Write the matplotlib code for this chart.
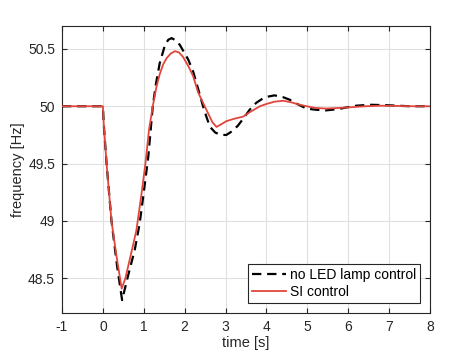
import matplotlib
matplotlib.use("Agg")
import matplotlib.pyplot as plt

# Data
t_nolamp = [-1, 0, 0.02, 0.09, 0.21, 0.35, 0.47, 0.6, 0.78, 0.9, 1.0, 1.11, 1.22, 1.30,
            1.39, 1.52, 1.6, 1.68, 1.78, 1.88, 2.09, 2.21, 2.33, 2.45, 2.53, 2.62, 2.75,
            2.9, 3.02, 3.15, 3.3, 3.45, 3.59, 3.75, 3.92, 4.05, 4.2, 4.4, 4.57, 4.75,
            4.98, 5.2, 5.45, 5.75, 5.96, 6.2, 6.53, 6.9, 7.2, 7.5, 7.8, 8.0]
f_nolamp = [50, 50, 49.85, 49.5, 49.0, 48.6, 48.31, 48.5, 48.75, 48.98, 49.25, 49.56, 50.0, 50.2,
            50.376, 50.536, 50.58, 50.594, 50.575, 50.536, 50.405, 50.3, 50.15, 50.0, 49.91, 49.82, 49.77,
            49.75, 49.75, 49.78, 49.83, 49.9, 49.97, 50.03, 50.07, 50.085, 50.095, 50.08, 50.057, 50.02,
            49.98, 49.97, 49.964, 49.975, 49.99, 50.005, 50.013, 50.01, 50.005, 50.0, 50.0, 50.0]

t_si = [-1, 0, 0.02, 0.09, 0.21, 0.33, 0.46, 0.55, 0.68, 0.82, 0.95, 1.04, 1.13, 1.22,
        1.31, 1.39, 1.48, 1.56, 1.66, 1.76, 1.86, 1.96, 2.09, 2.21, 2.33, 2.45, 2.57,
        2.68, 2.78, 2.88, 3.02, 3.2, 3.43, 3.6, 3.84, 4.0, 4.2, 4.41, 4.6, 4.8, 4.98,
        5.2, 5.47, 5.75, 6.0, 6.4, 6.8, 7.2, 7.6, 8.0]
f_si = [50, 50, 49.85, 49.5, 49.0, 48.7, 48.41, 48.5, 48.7, 48.92, 49.25, 49.5, 49.8, 50.0,
        50.17, 50.28, 50.37, 50.42, 50.46, 50.48, 50.47, 50.43, 50.35, 50.26, 50.12, 50.03, 49.94,
        49.86, 49.82, 49.84, 49.87, 49.89, 49.91, 49.95, 50.0, 50.02, 50.04, 50.048, 50.035, 50.015, 50.0,
        49.985, 49.98, 49.985, 49.99, 50.0, 50.005, 50.003, 50.0, 50.0]

x_ticks = [-1, 0, 1, 2, 3, 4, 5, 6, 7, 8]
x_tick_labels = ["-1", "0", "1", "2", "3", "4", "5", "6", "7", "8"]
y_ticks = [48.5, 49, 49.5, 50, 50.5]
y_tick_labels = ["48.5", "49", "49.5", "50", "50.5"]

plt.rcParams['font.family'] = ['Liberation Sans', 'DejaVu Sans']
plt.rcParams['axes.unicode_minus'] = False

fig = plt.figure(figsize=(4.74, 3.55), dpi=100)
ax = fig.add_axes([0.1308, 0.1192, 0.7764, 0.8076])

ax.plot(t_nolamp, f_nolamp, color='black', lw=1.6, dashes=(4.2, 2.6), label='no LED lamp control', zorder=3)
ax.plot(t_si, f_si, color='#e2453c', lw=1.3, label='SI control', zorder=4)

ax.set_xlim(-1, 8)
ax.set_ylim(48.2, 50.7)
ax.set_xticks(x_ticks)
ax.set_xticklabels(x_tick_labels)
ax.set_yticks(y_ticks)
ax.set_yticklabels(y_tick_labels)
ax.grid(True, color='#e0e0e0', lw=0.8)
ax.set_axisbelow(True)
ax.tick_params(direction='in', top=True, right=True, length=3.5, width=0.8,
               color='#262626', labelsize=10, labelcolor='#262626', pad=5)
for s in ax.spines.values():
    s.set_color('#262626')
    s.set_linewidth(0.8)

ax.set_xlabel('time [s]', fontsize=10.5, color='#262626', labelpad=2)
ax.set_ylabel('frequency [Hz]', fontsize=10.5, color='#262626', labelpad=2)

leg = ax.legend(loc='lower right', fontsize=10, frameon=True, fancybox=False,
                edgecolor='#262626', framealpha=1, borderpad=0.3, labelspacing=0.2,
                handlelength=2.5, handletextpad=0.25, borderaxespad=0.7)
leg.get_frame().set_linewidth(0.8)

fig.savefig('out.png', dpi=100)
